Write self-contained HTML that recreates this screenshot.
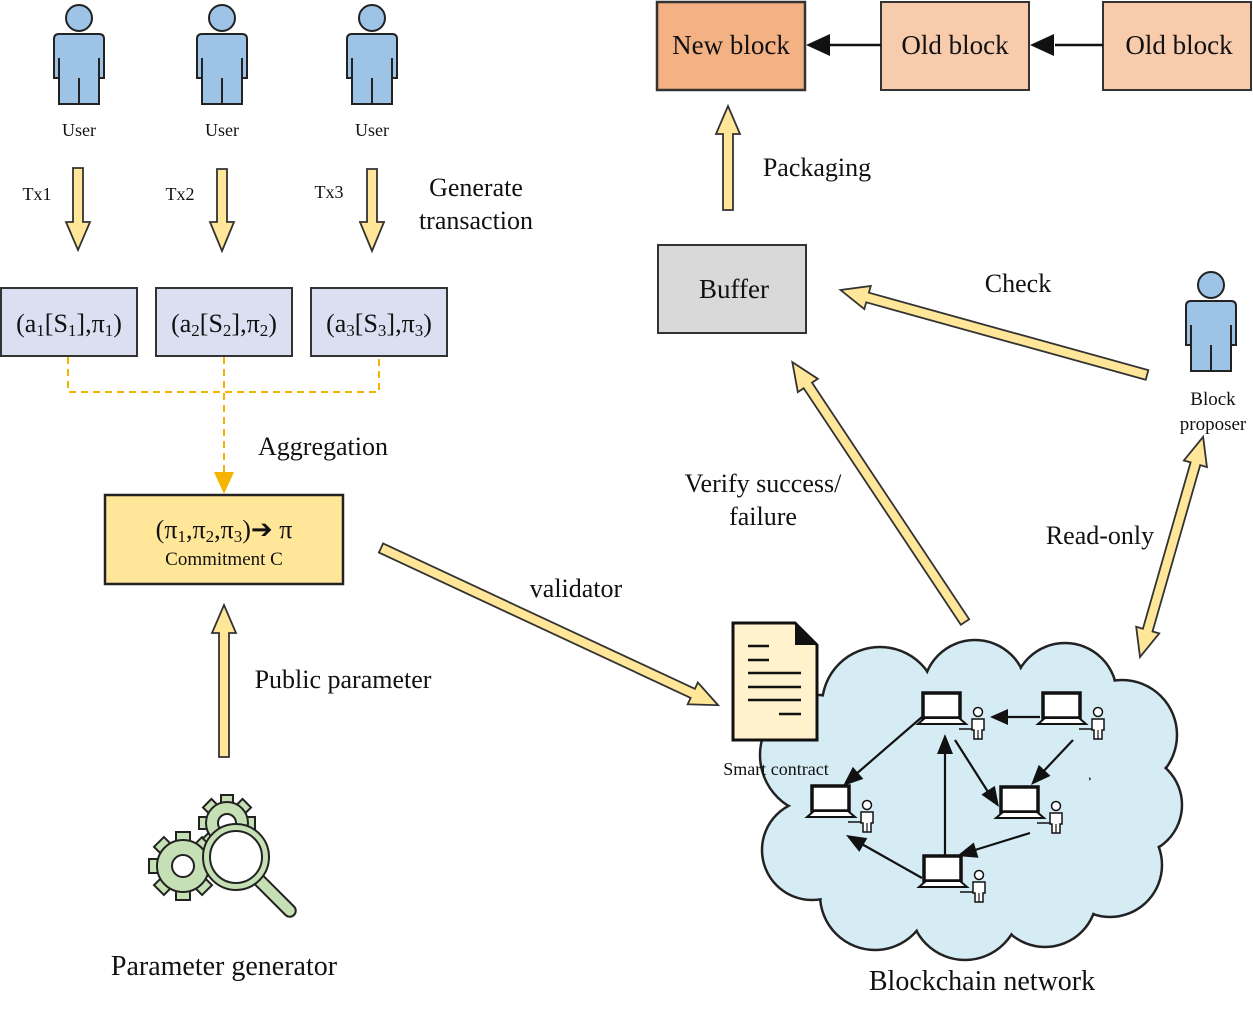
<!DOCTYPE html>
<html><head><meta charset="utf-8"><style>
html,body{margin:0;padding:0;background:#fff;}
svg{display:block;}
text{font-family:"Liberation Serif",serif;fill:#111;}
</style></head><body>
<svg width="1253" height="1017" viewBox="0 0 1253 1017" xmlns="http://www.w3.org/2000/svg">
<defs>
<symbol id="user" overflow="visible">
  <circle cx="0" cy="0" r="13" fill="#9dc3e6" stroke="#222" stroke-width="2"/>
  <path d="M-25,21 Q-25,16 -20,16 L20,16 Q25,16 25,21 L25,60 L20,60 L20,86 L-20,86 L-20,60 L-25,60 Z" fill="#9dc3e6" stroke="#222" stroke-width="2"/>
  <path d="M-20,60 L-20,40 M20,60 L20,40 M0,86 L0,60" stroke="#222" stroke-width="2" fill="none"/>
</symbol>
<symbol id="node" overflow="visible">
  <rect x="0" y="0" width="37" height="25" fill="#fff" stroke="#111" stroke-width="3.5"/>
  <path d="M-5,31 L2,25 L36,25 L43,31 Z" fill="#fff" stroke="#111" stroke-width="2"/>
  <line x1="36" y1="36" x2="52" y2="36" stroke="#111" stroke-width="1.5"/>
  <circle cx="55" cy="19" r="4.5" fill="#fff" stroke="#111" stroke-width="1.5"/>
  <path d="M49,26 L61,26 L61,37 L59,37 L59,46 L51,46 L51,37 L49,37 Z" fill="#fff" stroke="#111" stroke-width="1.5"/>
  <line x1="55" y1="37" x2="55" y2="46" stroke="#111" stroke-width="1.2"/>
</symbol>
</defs>

<use href="#user" x="79" y="18"/>
<use href="#user" x="222" y="18"/>
<use href="#user" x="372" y="18"/>
<text x="79" y="136" font-size="18" text-anchor="middle">User</text>
<text x="222" y="136" font-size="18" text-anchor="middle">User</text>
<text x="372" y="136" font-size="18" text-anchor="middle">User</text>
<text x="37" y="200" font-size="18" text-anchor="middle">Tx1</text>
<text x="180" y="200" font-size="18" text-anchor="middle">Tx2</text>
<text x="329" y="198" font-size="18" text-anchor="middle">Tx3</text>
<text x="476" y="196" font-size="26" text-anchor="middle">Generate</text>
<text x="476" y="229" font-size="26" text-anchor="middle">transaction</text>

<g fill="#ffe699" stroke="#333" stroke-width="1.8">
<polygon points="73,168 83,168 83,222 90,222 78,250 66,222 73,222"/>
<polygon points="217,169 227,169 227,222 234,222 222,251 210,222 217,222"/>
<polygon points="367,169 377,169 377,222 384,222 372,251 360,222 367,222"/>
<polygon points="723,210 733,210 733,134 740,134 728,106 716,134 723,134"/>
<polygon points="219,757 229,757 229,633 236,633 224,605 212,633 219,633"/>
<g transform="translate(1147,375) rotate(195.5)"><polygon points="0,-5 290,-5 290,-12 318,0 290,12 290,5 0,5"/></g>
<g transform="translate(965,622) rotate(236.4)"><polygon points="0,-5 284,-5 284,-12 312,0 284,12 284,5 0,5"/></g>
<g transform="translate(381,548) rotate(25)"><polygon points="0,-5 344,-5 344,-12 372,0 344,12 344,5 0,5"/></g>
<g transform="translate(1140,657) rotate(-74)"><polygon points="0,0 28,-12 28,-5 201,-5 201,-12 229,0 201,12 201,5 28,5 28,12"/></g>
</g>

<g stroke="#333" stroke-width="2" fill="#dae0f2">
<rect x="1" y="288" width="136" height="68"/>
<rect x="156" y="288" width="136" height="68"/>
<rect x="311" y="288" width="136" height="68"/>
</g>
<g font-size="26" text-anchor="middle">
<text x="69" y="332">(a<tspan font-size="17" dy="4">1</tspan><tspan dy="-4">[S</tspan><tspan font-size="17" dy="4">1</tspan><tspan dy="-4">],π</tspan><tspan font-size="17" dy="4">1</tspan><tspan dy="-4">)</tspan></text>
<text x="224" y="332">(a<tspan font-size="17" dy="4">2</tspan><tspan dy="-4">[S</tspan><tspan font-size="17" dy="4">2</tspan><tspan dy="-4">],π</tspan><tspan font-size="17" dy="4">2</tspan><tspan dy="-4">)</tspan></text>
<text x="379" y="332">(a<tspan font-size="17" dy="4">3</tspan><tspan dy="-4">[S</tspan><tspan font-size="17" dy="4">3</tspan><tspan dy="-4">],π</tspan><tspan font-size="17" dy="4">3</tspan><tspan dy="-4">)</tspan></text>
</g>

<g stroke="#f5b400" stroke-width="2" stroke-dasharray="7,5" fill="none">
<path d="M68,357 L68,392 L379,392 L379,357 M224,357 L224,480"/>
</g>
<polygon points="214,472 234,472 224,494" fill="#f5b400"/>
<text x="323" y="455" font-size="26" text-anchor="middle">Aggregation</text>

<rect x="105" y="495" width="238" height="89" fill="#ffe699" stroke="#222" stroke-width="2.5"/>
<text x="224" y="538" font-size="26" text-anchor="middle">(π<tspan font-size="17" dy="4">1</tspan><tspan dy="-4">,π</tspan><tspan font-size="17" dy="4">2</tspan><tspan dy="-4">,π</tspan><tspan font-size="17" dy="4">3</tspan><tspan dy="-4">)➔ π</tspan></text>
<text x="224" y="565" font-size="19" text-anchor="middle">Commitment C</text>
<text x="343" y="688" font-size="26" text-anchor="middle">Public parameter</text>

<g fill="#c5e0b4" stroke="#222" stroke-width="2">
<g transform="translate(183,866)">
 <rect x="-7" y="-34" width="14" height="68"/><rect x="-7" y="-34" width="14" height="68" transform="rotate(45)"/><rect x="-7" y="-34" width="14" height="68" transform="rotate(90)"/><rect x="-7" y="-34" width="14" height="68" transform="rotate(135)"/>
 <circle r="26"/>
 <circle r="11" fill="#fff"/>
</g>
<g transform="translate(227,823)">
 <rect x="-6" y="-28" width="12" height="56"/><rect x="-6" y="-28" width="12" height="56" transform="rotate(45)"/><rect x="-6" y="-28" width="12" height="56" transform="rotate(90)"/><rect x="-6" y="-28" width="12" height="56" transform="rotate(135)"/>
 <circle r="21"/>
 <circle r="9" fill="#fff"/>
</g>
<g transform="translate(236,857) rotate(45)">
 <rect x="28" y="-6" width="54" height="12" rx="6"/>
 <circle r="33"/>
 <circle r="26" fill="#fff"/>
</g>
</g>
<text x="224" y="975" font-size="28" text-anchor="middle">Parameter generator</text>

<rect x="657" y="2" width="148" height="88" fill="#f4b183" stroke="#333" stroke-width="2.5"/>
<rect x="881" y="2" width="148" height="88" fill="#f8cbad" stroke="#333" stroke-width="2"/>
<rect x="1103" y="2" width="148" height="88" fill="#f8cbad" stroke="#333" stroke-width="2"/>
<text x="731" y="54" font-size="27" text-anchor="middle">New block</text>
<text x="955" y="54" font-size="27" text-anchor="middle">Old block</text>
<text x="1179" y="54" font-size="27" text-anchor="middle">Old block</text>
<g stroke="#111" stroke-width="2.5"><line x1="830" y1="45" x2="881" y2="45"/><line x1="1055" y1="45" x2="1103" y2="45"/></g>
<polygon points="806,45 830,34 830,56" fill="#111"/>
<polygon points="1030,45 1054,34 1054,56" fill="#111"/>
<text x="817" y="176" font-size="26" text-anchor="middle">Packaging</text>

<rect x="658" y="245" width="148" height="88" fill="#d9d9d9" stroke="#333" stroke-width="2"/>
<text x="734" y="298" font-size="27" text-anchor="middle">Buffer</text>
<text x="1018" y="292" font-size="26" text-anchor="middle">Check</text>

<use href="#user" x="1211" y="285"/>
<text x="1213" y="405" font-size="19" text-anchor="middle">Block</text>
<text x="1213" y="430" font-size="19" text-anchor="middle">proposer</text>
<text x="763" y="492" font-size="26" text-anchor="middle">Verify success/</text>
<text x="763" y="525" font-size="26" text-anchor="middle">failure</text>
<text x="1100" y="544" font-size="26" text-anchor="middle">Read-only</text>
<text x="576" y="597" font-size="26" text-anchor="middle">validator</text>

<g stroke="#222" stroke-width="2.5" fill="#d5ecf4">
<circle cx="820" cy="755" r="60"/><circle cx="880" cy="705" r="58"/><circle cx="975" cy="692" r="52"/><circle cx="1065" cy="695" r="52"/><circle cx="1122" cy="735" r="55"/><circle cx="1132" cy="805" r="50"/><circle cx="1110" cy="865" r="52"/><circle cx="1045" cy="895" r="52"/><circle cx="965" cy="905" r="55"/><circle cx="875" cy="895" r="55"/><circle cx="812" cy="850" r="50"/>
</g>
<g fill="#d5ecf4">
<circle cx="820" cy="755" r="58.5"/><circle cx="880" cy="705" r="56.5"/><circle cx="975" cy="692" r="50.5"/><circle cx="1065" cy="695" r="50.5"/><circle cx="1122" cy="735" r="53.5"/><circle cx="1132" cy="805" r="48.5"/><circle cx="1110" cy="865" r="50.5"/><circle cx="1045" cy="895" r="50.5"/><circle cx="965" cy="905" r="53.5"/><circle cx="875" cy="895" r="53.5"/><circle cx="812" cy="850" r="48.5"/>
<circle cx="965" cy="800" r="126"/>
</g>

<path d="M733,623 L795,623 L817,645 L817,740 L733,740 Z" fill="#fff2cc" stroke="#111" stroke-width="3"/>
<polygon points="795,623 817,645 795,645" fill="#111"/>
<g stroke="#111" stroke-width="2.5"><line x1="748" y1="646" x2="769" y2="646"/><line x1="748" y1="660" x2="769" y2="660"/><line x1="748" y1="673" x2="801" y2="673"/><line x1="748" y1="687" x2="801" y2="687"/><line x1="748" y1="700" x2="801" y2="700"/><line x1="779" y1="714" x2="801" y2="714"/></g>
<text x="776" y="775" font-size="18" text-anchor="middle">Smart contract</text>

<g stroke="#111" stroke-width="2.2">
<line x1="1040" y1="717" x2="1005" y2="717"/>
<line x1="922" y1="717" x2="855" y2="775"/>
<line x1="955" y1="740" x2="990" y2="795"/>
<line x1="1073" y1="740" x2="1040" y2="775"/>
<line x1="945" y1="857" x2="945" y2="750"/>
<line x1="1030" y1="833" x2="975" y2="850"/>
<line x1="922" y1="878" x2="860" y2="843"/>
</g>
<g fill="#111">
<polygon points="990,717 1008,709 1008,725"/>
<g transform="translate(843,786) rotate(139)"><polygon points="0,0 -20,-8 -20,8"/></g>
<g transform="translate(999,807) rotate(57)"><polygon points="0,0 -20,-8 -20,8"/></g>
<g transform="translate(1031,785) rotate(133)"><polygon points="0,0 -20,-8 -20,8"/></g>
<g transform="translate(945,734) rotate(-90)"><polygon points="0,0 -20,-8 -20,8"/></g>
<g transform="translate(957,856) rotate(163)"><polygon points="0,0 -20,-8 -20,8"/></g>
<g transform="translate(846,835) rotate(210)"><polygon points="0,0 -20,-8 -20,8"/></g>
</g>
<use href="#node" x="923" y="693"/>
<use href="#node" x="1043" y="693"/>
<use href="#node" x="812" y="786"/>
<use href="#node" x="1001" y="787"/>
<use href="#node" x="924" y="856"/>
<text x="982" y="990" font-size="28" text-anchor="middle">Blockchain network</text>
</svg>
</body></html>
